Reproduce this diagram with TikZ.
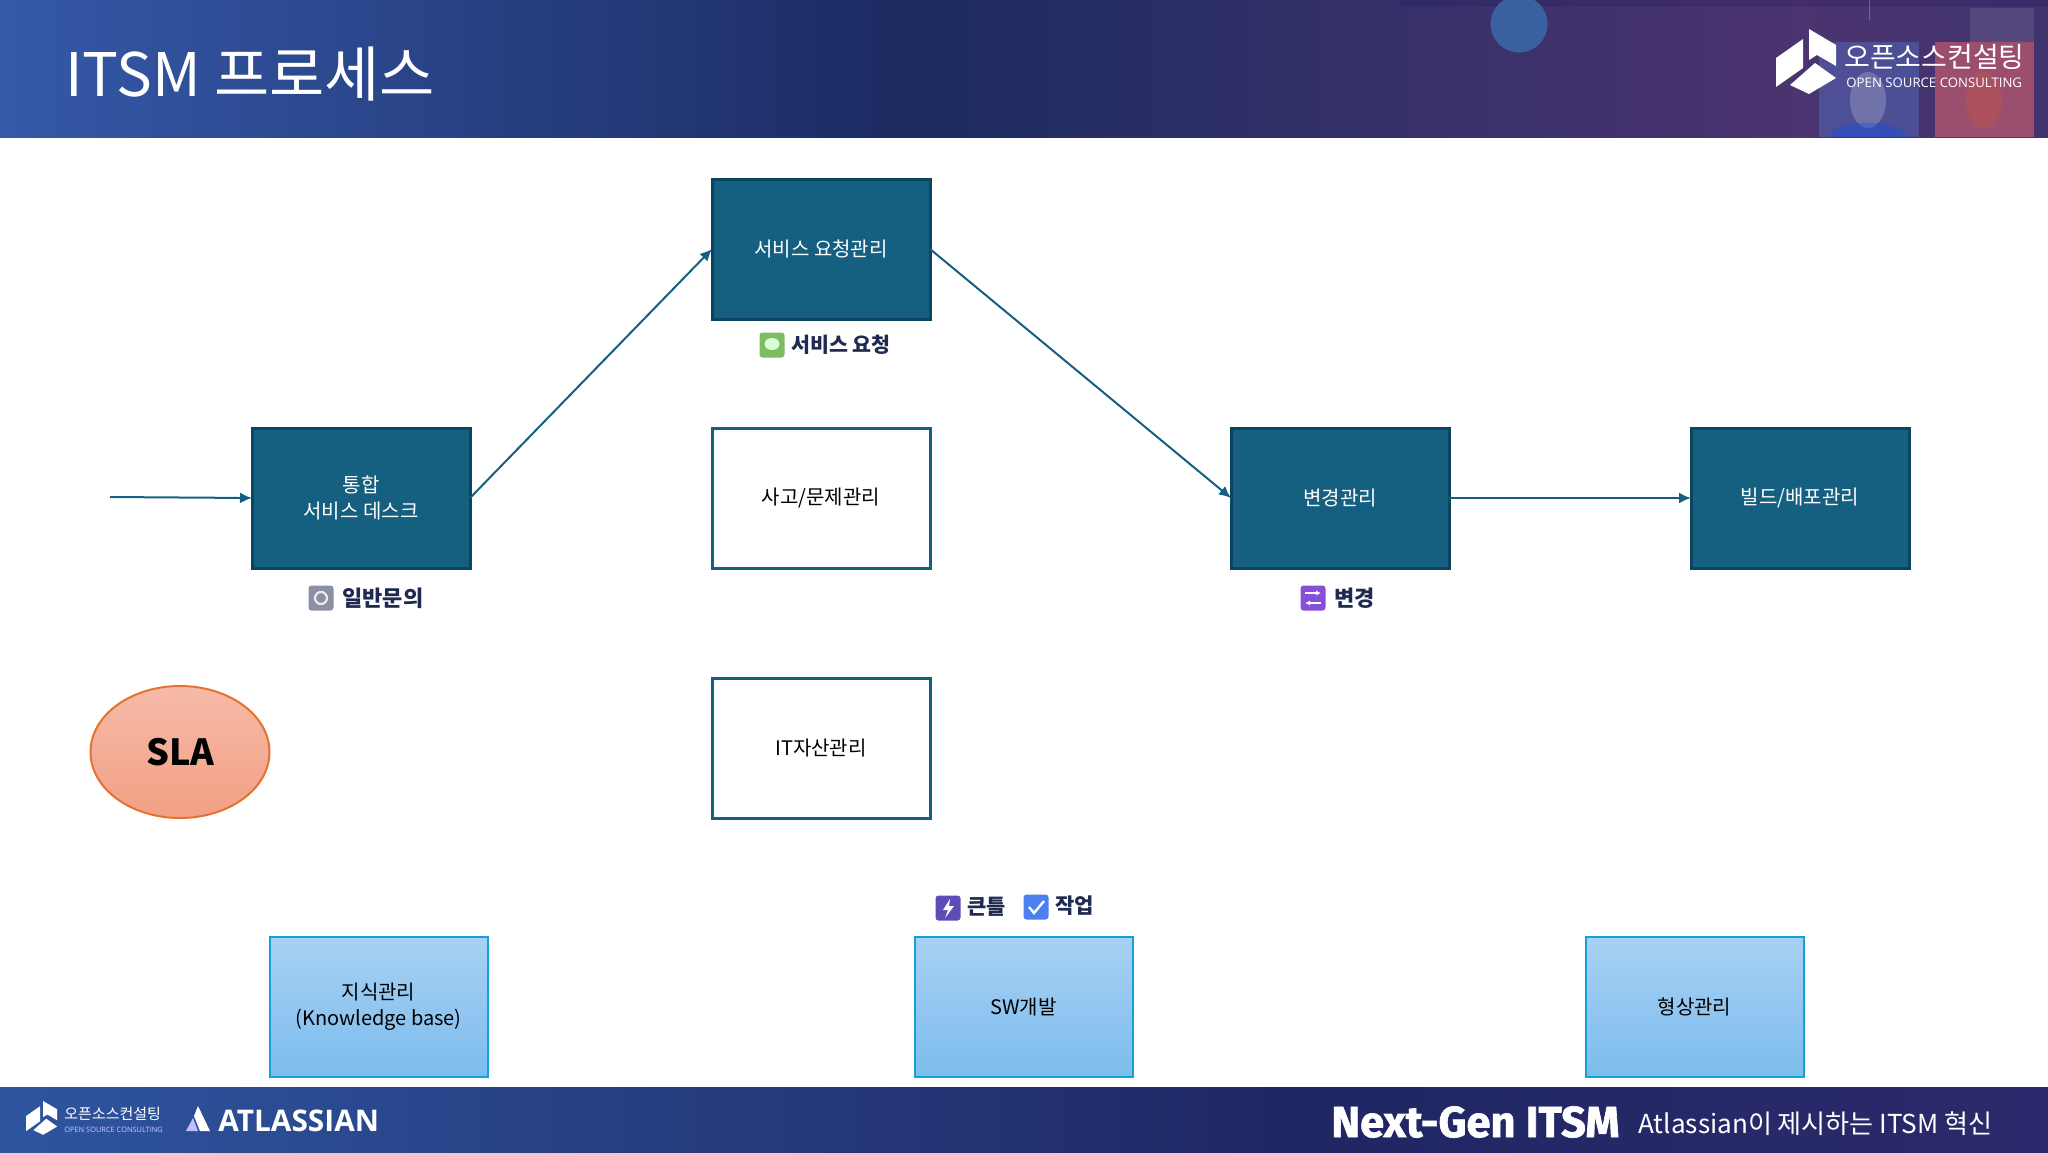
\documentclass[tikz,border=0pt]{standalone}
\usepackage{fontspec}
\setmainfont{Noto Sans CJK KR}
\newfontfamily\logofont{Open Sans}
\newfontfamily\headfont[BoldFeatures={FakeBold=1.5}]{Fira Sans}
\usetikzlibrary{arrows.meta,shapes.geometric}
\definecolor{deskblue}{HTML}{155F80}
\definecolor{deskline}{HTML}{0B4560}
\definecolor{labelink}{HTML}{1F2A50}
\definecolor{skytop}{HTML}{A8D1F3}
\definecolor{skybot}{HTML}{7CBCEE}
\definecolor{skyline}{HTML}{14A0D8}
\definecolor{slatop}{HTML}{F6BAA8}
\definecolor{slabot}{HTML}{F2A084}
\definecolor{slaline}{HTML}{E5722F}
\tikzset{
  procbox/.style={draw=deskline, line width=1.5pt, fill=deskblue, text=white, minimum width=109pt, minimum height=70pt, inner sep=0pt, outer sep=0pt, align=center, font=\fontsize{10}{13}\selectfont},
  whitebox/.style={procbox, draw=deskblue, fill=white, text=black},
  skybox/.style={procbox, line width=1pt, draw=skyline, top color=skytop, bottom color=skybot, text=black},
  typelabel/.style={text=labelink, inner sep=0pt, font=\fontsize{10.5}{13}\selectfont\bfseries},
  typeicon/.style={rounded corners=1.5pt, minimum size=12.5pt, inner sep=0pt},
  flow/.style={draw=deskblue, line width=1pt, -{Latex[length=6pt,width=5.5pt]}},
  oscmark/.pic={
    \fill[white] (0,29) -- (27,10) -- (27,39) -- (0,58) -- cycle;
    \fill[white] (33,0) -- (60,16) -- (60,37) -- (41,26) -- (33,31) -- cycle;
    \fill[white] (14,56) -- (39,34) -- (60,49) -- (33,65) -- cycle;
  }
}
\begin{document}
\begin{tikzpicture}[x=0.5pt,y=-0.5pt]
  \useasboundingbox (0,0) rectangle (2048,1152);
  \clip (0,0) rectangle (2048,1152);
  % header band
  \shade[left color={rgb,255:red,53;green,89;blue,168}, right color={rgb,255:red,28;green,43;blue,98}] (0,0) rectangle (900,137);
  \shade[left color={rgb,255:red,28;green,43;blue,98}, right color={rgb,255:red,75;green,52;blue,112}] (900,0) rectangle (1800,137);
  \shade[left color={rgb,255:red,75;green,52;blue,112}, right color={rgb,255:red,64;green,52;blue,110}] (1800,0) rectangle (2048,137);
  \fill[blue!30!black, opacity=0.12] (1400,0) rectangle (2048,7);
  \fill[fill={rgb,255:red,58;green,96;blue,160}] (1519,24) ellipse (28.5 and 28.5); % round mark
  \fill[fill={rgb,255:red,90;green,130;blue,220}, opacity=0.35] (1819,42) rectangle (1919,137); % left video tile
  \fill[fill={rgb,255:red,230;green,100;blue,110}, opacity=0.55] (1935,42) rectangle (2034,137); % right video tile
  \fill[white, opacity=0.10] (1970,8) rectangle (2034,42);
  \fill[white, opacity=0.2] (1868,100) ellipse (18 and 28);
  \fill[blue!70!cyan, opacity=0.3] (1829,137) .. controls (1835,118) and (1900,118) .. (1908,137) -- cycle;
  \fill[red!60!yellow, opacity=0.15] (1984,100) ellipse (18 and 28);
  \draw[white, opacity=0.25] (1869,0) -- (1869,20);
  \node[text=white, inner sep=0pt, anchor=west, font=\fontsize{30}{32}\selectfont] (pagetitle) at (65,74) {ITSM 프로세스};
  \pic at (1776,29) {oscmark};
  \node[text=white, inner sep=0pt, anchor=west, font=\fontsize{14}{16}\selectfont] (oscname) at (1844,57) {오픈소스컨설팅};
  \node[text=white, inner sep=0pt, anchor=west, font=\logofont\fontsize{6.6}{8}\selectfont] (oscsub) at (1846,83) {OPEN SOURCE CONSULTING};
  % footer band
  \shade[left color={rgb,255:red,46;green,85;blue,159}, right color={rgb,255:red,31;green,39;blue,99}] (0,1087) rectangle (1300,1152);
  \shade[left color={rgb,255:red,31;green,39;blue,99}, right color={rgb,255:red,44;green,42;blue,108}] (1300,1087) rectangle (2048,1152);
  \pic[scale=0.52] at (26,1101) {oscmark};
  \node[text=white, inner sep=0pt, anchor=west, font=\fontsize{7.5}{9}\selectfont] (footname) at (64,1114) {오픈소스컨설팅};
  \node[text=white!80!blue, inner sep=0pt, anchor=west, font=\logofont\fontsize{3.7}{5}\selectfont] (footsub) at (64,1130) {OPEN SOURCE CONSULTING};
  \fill[white] (198,1106) -- (210,1131) -- (200,1131) -- (194,1116) -- cycle; % atlassian mark
  \fill[white!75!blue] (193,1118) -- (186,1131) -- (198,1131) -- cycle;
  \node[text=white, inner sep=0pt, anchor=west, font=\logofont\fontsize{14.9}{16}\selectfont\bfseries] (atlassian) at (218,1121) {ATLASSIAN};
  \node[text=white, inner sep=0pt, anchor=west, font=\headfont\fontsize{21.7}{24}\selectfont\bfseries] (nextgen) at (1331,1122) {Next-Gen ITSM};
  \node[text=white, inner sep=0pt, anchor=west, font=\fontsize{13.05}{15}\selectfont] (footline) at (1638,1124) {Atlassian이 제시하는 ITSM 혁신};
  % process boxes
  \node[procbox] (desk) at (361,498) {통합\\서비스 데스크};
  \node[procbox] (request) at (821,249) {서비스 요청관리};
  \node[whitebox] (incident) at (821,498) {사고/문제관리};
  \node[whitebox] (asset) at (821,748) {IT자산관리};
  \node[procbox] (change) at (1340,498) {변경관리};
  \node[procbox] (build) at (1800,498) {빌드/배포관리};
  \node[skybox] (knowledge) at (378.5,1007) {지식관리\\(Knowledge base)};
  \node[skybox] (swdev) at (1023.5,1006.5) {SW개발};
  \node[skybox] (config) at (1694.5,1006.5) {형상관리};
  \node[ellipse, draw=slaline, line width=1pt, top color=slatop, bottom color=slabot, minimum width=89.5pt, minimum height=66pt, inner sep=0pt, font=\fontsize{18}{20}\selectfont\bfseries] (sla) at (180,752) {SLA};
  % connectors
  \coordinate (entry) at (110,497);
  \draw[flow] (entry) -- (desk.west);
  \draw[flow] (desk.east) -- (request.west);
  \draw[flow] (request.east) -- (change.west);
  \draw[flow] (change.east) -- (build.west);
  % issue type labels
  \node[typeicon, fill={rgb,255:red,139;green,144;blue,165}] (generalicon) at (321,598) {};
  \draw[white!85!gray, line width=1.1pt] (generalicon.center) circle (6);
  \node[typelabel, anchor=west, font=\fontsize{11}{13}\selectfont\bfseries] (general) at (342,598) {일반문의};
  \node[typeicon, fill={rgb,255:red,127;green,187;blue,99}] (requesticon) at (772,345) {};
  \fill[white!85!green] (772,344) ellipse (7.5 and 6);
  \node[typelabel, anchor=west, font=\fontsize{10.3}{13}\selectfont\bfseries] (requestlabel) at (791,345) {서비스 요청};
  \node[typeicon, fill={rgb,255:red,136;green,80;blue,216}] (changeicon) at (1313,598) {};
  \draw[white, line width=0.6pt, -{Latex[length=2.5pt,width=2.5pt]}] (1305,593) -- (1321,593);
  \draw[white, line width=0.6pt, -{Latex[length=2.5pt,width=2.5pt]}] (1321,603) -- (1305,603);
  \node[typelabel, anchor=west, font=\fontsize{11}{13}\selectfont\bfseries] (changelabel) at (1334,598) {변경};
  \node[typeicon, fill={rgb,255:red,91;green,77;blue,181}] (epicicon) at (948,908) {};
  \fill[white] (950,899) -- (943,910) -- (948,910) -- (945,918) -- (954,906) -- (949,906) -- cycle;
  \node[typelabel, anchor=west] (epic) at (967,907) {큰틀};
  \node[typeicon, fill={rgb,255:red,74;green,128;blue,240}] (taskicon) at (1036,907) {};
  \draw[white, line width=1.2pt] (1029,907) -- (1034,913) -- (1044,901);
  \node[typelabel, anchor=west] (task) at (1055,906) {작업};
\end{tikzpicture}
\end{document}
